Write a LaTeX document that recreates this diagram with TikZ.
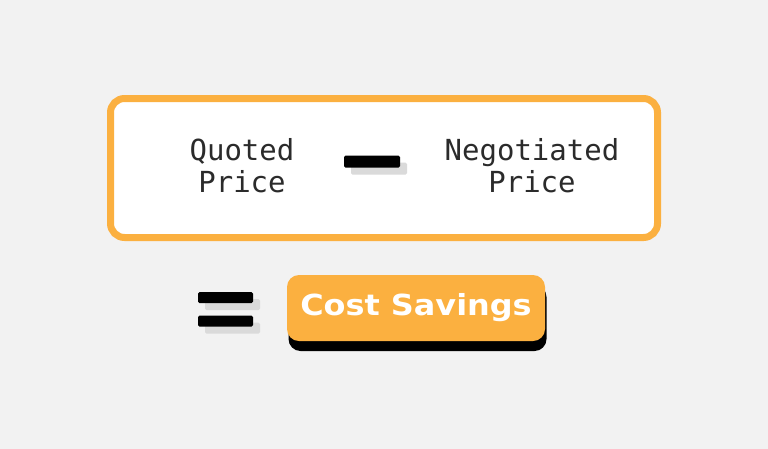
\documentclass[tikz,border=0pt]{standalone}
\usepackage{fontspec}
\setmonofont{DejaVu Sans Mono}
\setsansfont{DejaVu Sans}
\newfontfamily\btnfont{DejaVu Sans}[FakeStretch=1.1]
\usetikzlibrary{positioning,shadows}

\definecolor{bgray}{HTML}{F2F2F2}
\definecolor{orng}{HTML}{FBB040}
\definecolor{shade}{HTML}{DADADA}
\definecolor{ink}{HTML}{2B2B2B}

\begin{document}
\begin{tikzpicture}[x=1pt,y=-1pt,
    term/.style={font=\ttfamily\fontsize{29}{32}\selectfont, text=ink, align=center, inner sep=0pt},
    opbar/.style={fill=black, rounded corners=1.5pt, minimum width=56pt, minimum height=12pt, inner sep=0pt,
      drop shadow={shadow xshift=7pt, shadow yshift=-7pt, fill=shade, opacity=1}},
    frame/.style={draw=orng, line width=7pt, fill=white, rounded corners=14pt, minimum width=547pt, minimum height=139pt},
    result/.style={fill=orng, rounded corners=12pt, minimum width=258pt, minimum height=66pt, text=white,
      font=\btnfont\bfseries\fontsize{29}{32}\selectfont,
      drop shadow={shadow xshift=1.5pt, shadow yshift=-10pt, fill=black, opacity=1}}]
  \useasboundingbox (0,0) rectangle (768,448);
  \fill[bgray] (-5,-5) rectangle (773,453);
  % top box: quoted minus negotiated
  \node[frame] (box) at (384,168) {};
  \node[term] (quoted) at (242,166) {Quoted\\Price};
  \node[term] (negot) at (532,166) {Negotiated\\Price};
  \node[opbar] (minus) at (372,161.5) {};
  % bottom row
  \node[opbar, minimum width=55pt, minimum height=11pt] (eqtop) at (225.5,297.5) {};
  \node[opbar, minimum width=55pt, minimum height=11pt] (eqbot) at (225.5,321) {};
  \node[result] (savings) at (416,308) {Cost Savings};
\end{tikzpicture}
\end{document}
